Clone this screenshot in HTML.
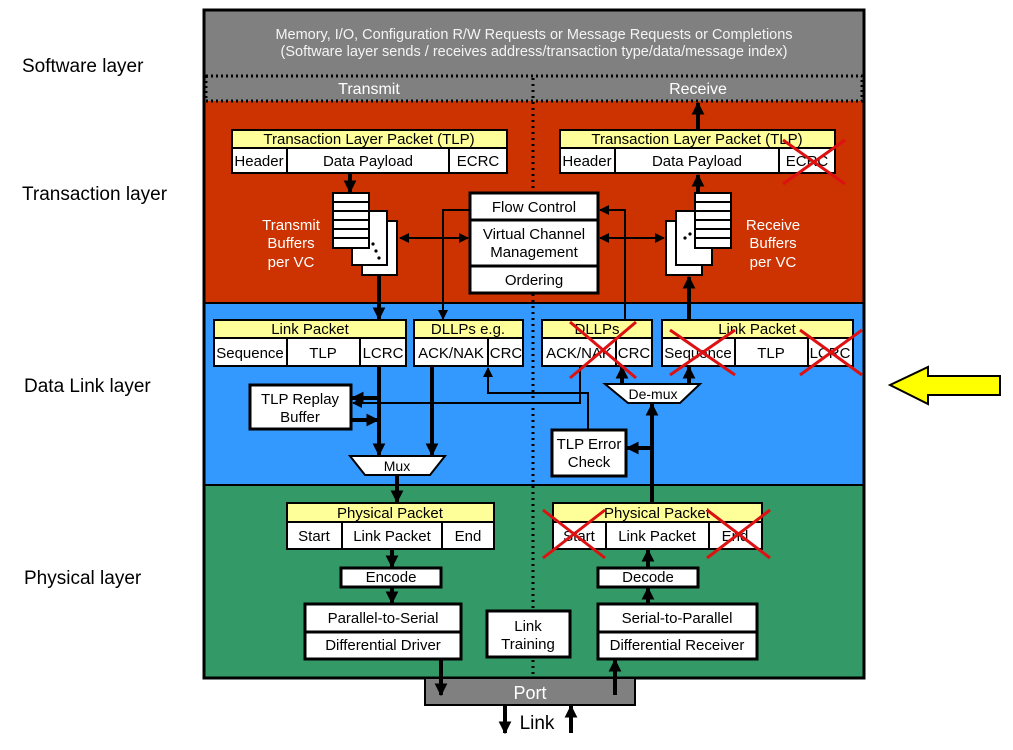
<!DOCTYPE html>
<html><head><meta charset="utf-8"><style>
body{margin:0;background:#fff;}
svg{display:block;font-family:"Liberation Sans",sans-serif;}
</style></head><body>
<svg width="1013" height="750" viewBox="0 0 1013 750" xmlns="http://www.w3.org/2000/svg">
<defs>
<marker id="a" viewBox="0 0 10 10" refX="9" refY="5" markerWidth="5" markerHeight="5" orient="auto-start-reverse"><path d="M0,0L10,5L0,10z" fill="#000"/></marker>
<marker id="b" viewBox="0 0 10 10" refX="9" refY="5" markerWidth="3.2" markerHeight="3.2" orient="auto-start-reverse"><path d="M0,0L10,5L0,10z" fill="#000"/></marker>
</defs>
<rect x="204" y="10" width="660" height="92" fill="#808080"/>
<rect x="204" y="101" width="660" height="202" fill="#cc3300"/>
<rect x="204" y="303" width="660" height="182" fill="#3399ff"/>
<rect x="204" y="485" width="660" height="193" fill="#339966"/>
<rect x="204" y="10" width="660" height="668" fill="none" stroke="#000" stroke-width="3"/>
<line x1="204" y1="303" x2="864" y2="303" stroke="#000" stroke-width="2"/>
<line x1="204" y1="485" x2="864" y2="485" stroke="#000" stroke-width="2"/>
<rect x="206" y="76" width="656" height="25" fill="none" stroke="#000" stroke-width="3" stroke-dasharray="2,3"/>
<line x1="533" y1="78" x2="533" y2="678" stroke="#000" stroke-width="3" stroke-dasharray="2,4"/>
<g fill="#f4f4f4" font-size="14.5" text-anchor="middle">
<text x="534" y="39">Memory, I/O, Configuration R/W Requests or Message Requests or Completions</text>
<text x="534" y="56">(Software layer sends / receives address/transaction type/data/message index)</text>
</g>
<g fill="#fff" font-size="16" text-anchor="middle"><text x="369" y="94">Transmit</text><text x="698" y="94">Receive</text></g>
<g font-size="19" fill="#000"><text x="22" y="72">Software layer</text><text x="22" y="200">Transaction layer</text><text x="24" y="392">Data Link layer</text><text x="24" y="584">Physical layer</text></g>
<g stroke="#000" stroke-width="2">
<rect x="232" y="130" width="275" height="18" fill="#ffff99"/>
<rect x="232" y="148" width="55" height="25" fill="#fff"/><rect x="287" y="148" width="162" height="25" fill="#fff"/><rect x="449" y="148" width="58" height="25" fill="#fff"/>
<rect x="560" y="130" width="275" height="18" fill="#ffff99"/>
<rect x="560" y="148" width="55" height="25" fill="#fff"/><rect x="615" y="148" width="164" height="25" fill="#fff"/><rect x="779" y="148" width="56" height="25" fill="#fff"/>
<rect x="362" y="221" width="35" height="54" fill="#fff"/>
<rect x="352" y="211" width="35" height="54" fill="#fff"/>
<rect x="333" y="193" width="36" height="55" fill="#fff"/>
<rect x="666" y="221" width="36" height="54" fill="#fff"/>
<rect x="676" y="211" width="36" height="54" fill="#fff"/>
<rect x="695" y="193" width="36" height="55" fill="#fff"/>
<rect x="470" y="193" width="128" height="27" fill="#fff" stroke-width="3"/>
<rect x="470" y="220" width="128" height="46" fill="#fff" stroke-width="3"/>
<rect x="470" y="266" width="128" height="27" fill="#fff" stroke-width="3"/>
<rect x="214" y="320" width="192" height="18" fill="#ffff99"/>
<rect x="214" y="338" width="73" height="28" fill="#fff"/><rect x="287" y="338" width="73" height="28" fill="#fff"/><rect x="360" y="338" width="46" height="28" fill="#fff"/>
<rect x="414" y="320" width="109" height="18" fill="#ffff99"/>
<rect x="414" y="338" width="74" height="28" fill="#fff"/><rect x="488" y="338" width="35" height="28" fill="#fff"/>
<rect x="542" y="320" width="110" height="18" fill="#ffff99"/>
<rect x="542" y="338" width="74" height="28" fill="#fff"/><rect x="616" y="338" width="36" height="28" fill="#fff"/>
<rect x="662" y="320" width="191" height="18" fill="#ffff99"/>
<rect x="662" y="338" width="73" height="28" fill="#fff"/><rect x="735" y="338" width="73" height="28" fill="#fff"/><rect x="808" y="338" width="45" height="28" fill="#fff"/>
<rect x="250" y="385" width="101" height="44" fill="#fff" stroke-width="3"/>
<rect x="552" y="430" width="74" height="46" fill="#fff" stroke-width="3"/>
<path d="M350,456H445L430,475H365Z" fill="#fff"/>
<path d="M605,384H700L680,403H628Z" fill="#fff"/>
<rect x="287" y="503" width="207" height="19" fill="#ffff99"/>
<rect x="287" y="522" width="55" height="27" fill="#fff"/><rect x="342" y="522" width="100" height="27" fill="#fff"/><rect x="442" y="522" width="52" height="27" fill="#fff"/>
<rect x="553" y="503" width="209" height="19" fill="#ffff99"/>
<rect x="553" y="522" width="53" height="27" fill="#fff"/><rect x="606" y="522" width="103" height="27" fill="#fff"/><rect x="709" y="522" width="53" height="27" fill="#fff"/>
<rect x="341" y="568" width="100" height="19" fill="#fff" stroke-width="3"/>
<rect x="598" y="568" width="100" height="19" fill="#fff" stroke-width="3"/>
<rect x="305" y="604" width="156" height="28" fill="#fff" stroke-width="3"/>
<rect x="305" y="632" width="156" height="27" fill="#fff" stroke-width="3"/>
<rect x="598" y="604" width="159" height="28" fill="#fff" stroke-width="3"/>
<rect x="598" y="632" width="159" height="27" fill="#fff" stroke-width="3"/>
<rect x="487" y="611" width="83" height="46" fill="#fff" stroke-width="3"/>
<rect x="425" y="678" width="210" height="27" fill="#808080"/>
</g>
<g stroke="#000" stroke-width="2">
<line x1="333" y1="202" x2="369" y2="202"/><line x1="333" y1="211" x2="369" y2="211"/><line x1="333" y1="220" x2="369" y2="220"/><line x1="333" y1="229" x2="369" y2="229"/><line x1="333" y1="238" x2="369" y2="238"/>
<line x1="695" y1="202" x2="731" y2="202"/><line x1="695" y1="211" x2="731" y2="211"/><line x1="695" y1="220" x2="731" y2="220"/><line x1="695" y1="229" x2="731" y2="229"/><line x1="695" y1="238" x2="731" y2="238"/>
</g>
<g fill="#000"><circle cx="373" cy="244" r="1.6"/><circle cx="376" cy="251" r="1.6"/><circle cx="379" cy="258" r="1.6"/>
<circle cx="685" cy="238" r="1.6"/><circle cx="690" cy="234" r="1.6"/></g>
<g font-size="15" text-anchor="middle" fill="#000">
<text x="369" y="144">Transaction Layer Packet (TLP)</text>
<text x="259" y="166">Header</text><text x="368" y="166">Data Payload</text><text x="478" y="166">ECRC</text>
<text x="697" y="144">Transaction Layer Packet (TLP)</text>
<text x="587" y="166">Header</text><text x="697" y="166">Data Payload</text><text x="807" y="166">ECRC</text>
<text x="534" y="212">Flow Control</text><text x="534" y="239">Virtual Channel</text><text x="534" y="257">Management</text><text x="534" y="285">Ordering</text>
<text x="310" y="334">Link Packet</text>
<text x="250" y="358">Sequence</text><text x="323" y="358">TLP</text><text x="383" y="358">LCRC</text>
<text x="468" y="334">DLLPs e.g.</text><text x="451" y="358">ACK/NAK</text><text x="506" y="358">CRC</text>
<text x="597" y="334">DLLPs</text><text x="579" y="358">ACK/NAK</text><text x="634" y="358">CRC</text>
<text x="757" y="334">Link Packet</text>
<text x="698" y="358">Sequence</text><text x="771" y="358">TLP</text><text x="830" y="358">LCRC</text>
<text x="300" y="404">TLP Replay</text><text x="300" y="422">Buffer</text>
<text x="589" y="449">TLP Error</text><text x="589" y="467">Check</text>
<text x="397" y="471" font-size="14">Mux</text><text x="653" y="399" font-size="14">De-mux</text>
<text x="390" y="518">Physical Packet</text>
<text x="314" y="541">Start</text><text x="392" y="541">Link Packet</text><text x="468" y="541">End</text>
<text x="657" y="518">Physical Packet</text>
<text x="579" y="541">Start</text><text x="657" y="541">Link Packet</text><text x="735" y="541">End</text>
<text x="391" y="582">Encode</text><text x="648" y="582">Decode</text>
<text x="383" y="623">Parallel-to-Serial</text><text x="383" y="650">Differential Driver</text>
<text x="677" y="623">Serial-to-Parallel</text><text x="677" y="650">Differential Receiver</text>
<text x="528" y="631">Link</text><text x="528" y="649">Training</text>
</g>
<g fill="#fff" font-size="15" text-anchor="middle"><text x="291" y="230">Transmit</text><text x="291" y="248">Buffers</text><text x="291" y="267">per VC</text>
<text x="773" y="230">Receive</text><text x="773" y="248">Buffers</text><text x="773" y="267">per VC</text></g>
<text x="530" y="699" font-size="18" fill="#fff" text-anchor="middle">Port</text>
<text x="537" y="729" font-size="19" fill="#000" text-anchor="middle">Link</text>
<g stroke="#000" stroke-width="4" fill="none" marker-end="url(#b)">
<line x1="350" y1="173" x2="350" y2="192"/>
<line x1="379" y1="276" x2="379" y2="319"/>
<line x1="698" y1="130" x2="698" y2="103"/>
<line x1="698" y1="192" x2="698" y2="175"/>
<line x1="689" y1="320" x2="689" y2="277"/>
<line x1="379" y1="366" x2="379" y2="455"/>
<line x1="432" y1="366" x2="432" y2="455"/>
<line x1="379" y1="398" x2="352" y2="398"/>
<line x1="351" y1="420" x2="378" y2="420"/>
<line x1="397" y1="475" x2="397" y2="502"/>
<line x1="652" y1="503" x2="652" y2="404"/>
<line x1="652" y1="448" x2="627" y2="448"/>
<line x1="622" y1="384" x2="622" y2="367"/>
<line x1="689" y1="384" x2="689" y2="367"/>
<line x1="392" y1="549" x2="392" y2="567"/>
<line x1="392" y1="587" x2="392" y2="603"/>
<line x1="648" y1="568" x2="648" y2="550"/>
<line x1="648" y1="604" x2="648" y2="588"/>
<line x1="441" y1="659" x2="441" y2="695"/>
<line x1="615" y1="695" x2="615" y2="660"/>
<line x1="505" y1="705" x2="505" y2="733"/>
<line x1="571" y1="733" x2="571" y2="706"/>
</g>
<g stroke="#000" stroke-width="2" fill="none">
<line x1="400" y1="238" x2="468" y2="238" marker-start="url(#a)" marker-end="url(#a)"/>
<line x1="600" y1="238" x2="664" y2="238" marker-start="url(#a)" marker-end="url(#a)"/>
<polyline points="470,210 443,210 443,319" marker-end="url(#a)"/>
<polyline points="625,320 625,210 600,210" marker-end="url(#a)"/>
<polyline points="580,366 580,403 353,403" marker-end="url(#a)"/>
<polyline points="588,430 588,393 488,393 488,368" marker-end="url(#a)"/>
</g>
<g stroke="#dd1111" stroke-width="3">
<path d="M783,140L845,184M845,140L783,184"/>
<path d="M570,322L636,378M636,322L570,378"/>
<path d="M670,330L735,375M735,330L670,375"/>
<path d="M800,330L862,375M862,330L800,375"/>
<path d="M543,510L605,558M605,510L543,558"/>
<path d="M707,510L770,558M770,510L707,558"/>
</g>
<path d="M890,385L928,367V376H1000V395H928V404Z" fill="#ffff00" stroke="#000" stroke-width="2"/>
</svg>
</body></html>
